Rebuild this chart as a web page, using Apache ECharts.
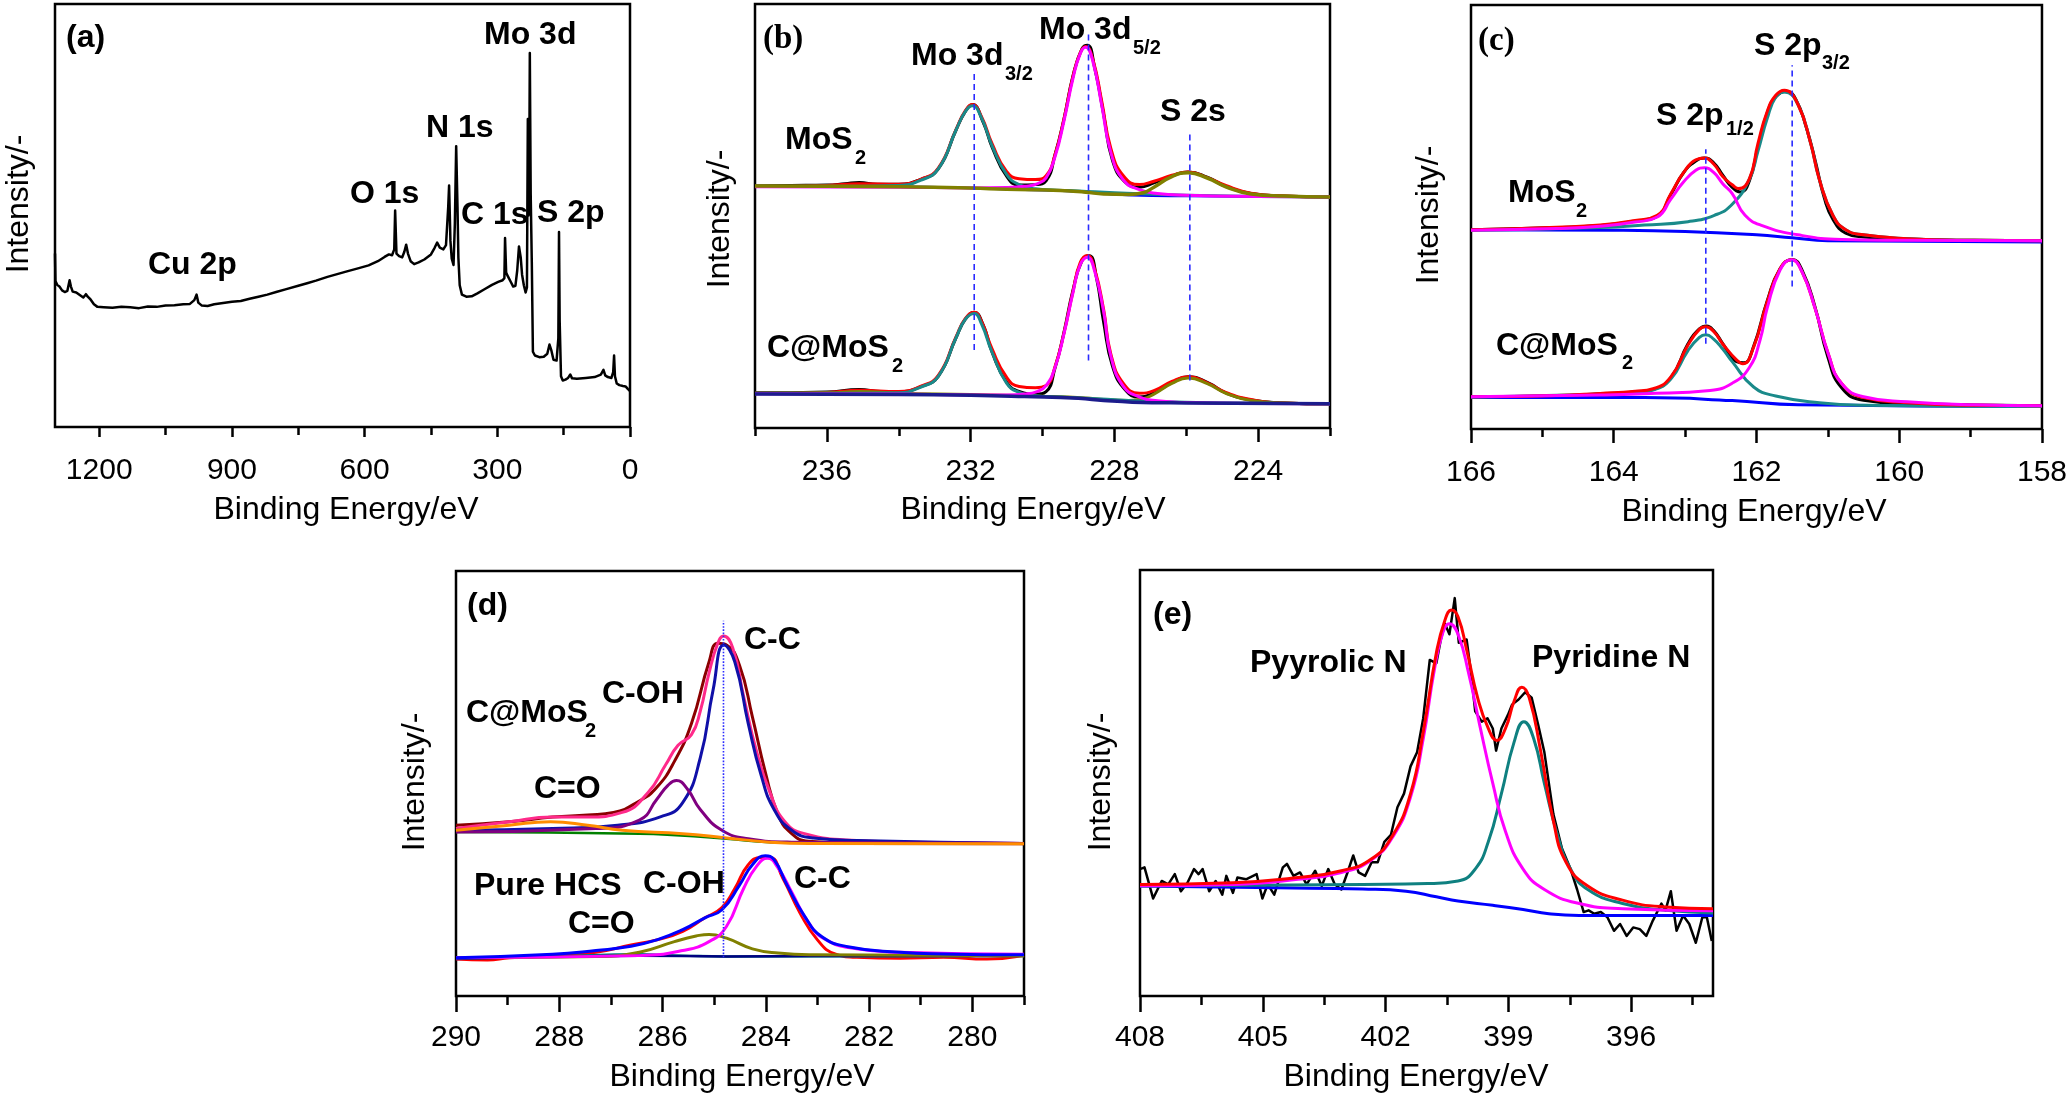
<!DOCTYPE html>
<html><head><meta charset="utf-8">
<script src="https://cdn.jsdelivr.net/npm/echarts@6/dist/echarts.min.js"></script>
<style>html,body{margin:0;padding:0;background:#fff}#c{width:2070px;height:1096px}</style>
</head><body><div id="c"></div>
<script>
// ---------- tick labels ----------
const aTicks = [0, 300, 600, 900, 1200];           const aMinor = [150, 450, 750, 1050];
const bTicks = [224, 228, 232, 236];               const bMinor = [222, 226, 230, 234, 238];
const cTicks = [158, 160, 162, 164, 166];          const cMinor = [159, 161, 163, 165];
const dTicks = [280, 282, 284, 286, 288, 290];     const dMinor = [279, 281, 283, 285, 287, 289];
const eTicks = [396, 399, 402, 405, 408];          const eMinor = [394.5, 397.5, 400.5, 403.5, 406.5];

// ---------- (a) survey ----------
const aSurvey = [[1300,41],[1299,34.5],[1295,33.6],[1290,33.2],[1284,32.3],[1278,31.9],[1272,32.2],[1267,34.7],[1264,33.2],[1260,32.0],[1252,31.8],[1244,31.2],[1236,30.6],[1230,31.4],[1226,30.8],[1220,30.2],[1212,29.0],[1204,28.4],[1190,28.3],[1170,28.2],[1150,28.4],[1130,28.3],[1110,28.1],[1090,28.5],[1070,28.4],[1050,28.7],[1030,28.8],[1010,29.0],[995,29.1],[985,30.0],[980,31.3],[976,29.4],[968,28.7],[955,28.6],[940,29.0],[920,29.3],[900,29.6],[880,29.8],[860,30.3],[840,30.8],[820,31.3],[800,31.9],[777,32.6],[750,33.4],[730,34.0],[710,34.6],[684,35.5],[660,36.2],[640,36.8],[615,37.5],[591,38.2],[570,39.2],[555,40.2],[545,40.8],[538,40.6],[533,42],[531,51.2],[528,41],[522,40.4],[515,40.1],[510,41.5],[506,43.1],[502,41],[496,39.2],[488,38.5],[478,38.9],[465,39.6],[450,40.8],[442,42.3],[436,43.6],[430,42.4],[422,42.0],[416,43],[411,52],[409,57.1],[406,44],[403,39.8],[399,38.3],[396,48],[393,66.4],[390,52],[388,40],[385,33.5],[380,31.3],[370,30.8],[358,30.9],[345,31.6],[330,32.5],[312,33.6],[298,34.3],[288,34.7],[284,35.2],[282.5,44.7],[280,36.5],[276,35.6],[270,34.4],[264,33.2],[259,33.4],[255,37],[251,42.7],[247,40],[244,36],[240,33.5],[236,31.8],[233,33],[231,72.8],[229.5,50],[228,55],[226.5,88.4],[224.5,55],[222,38.9],[219.5,17.8],[215,16.9],[205,16.5],[195,16.6],[187,17.3],[182,19.5],[178,18.2],[173,15.9],[166,15.7],[162,21],[160.5,46.1],[159,25],[156,12],[152,11],[146,11.2],[140,11.6],[135,12.4],[131,11.5],[120,11.4],[100,11.6],[80,11.8],[66,12.4],[60,13.5],[56,12.2],[50,11.8],[42,11.6],[38,13],[36,16.9],[34,12],[30,10.3],[24,9.9],[16,9.7],[10,9.6],[5,9.0],[2,9.4],[0,8.5]];

// ---------- (b) Mo 3d ----------
const bBlackTop = [[238,57.1],[237,57.2],[236,57.3],[235.5,57.6],[235.1,57.9],[234.6,57.5],[234,57.5],[233.4,58.6],[232.9,61.1],[232.4,70.4],[232.15,74.6],[231.95,76.3],[231.65,72.1],[231.4,66.2],[231.0,59.4],[230.65,57.3],[230.2,57.4],[229.9,58.3],[229.65,64.5],[229.4,73],[229.15,83.1],[228.9,89.5],[228.75,90.3],[228.55,85],[228.3,74],[228.05,63],[227.7,58],[227.3,56.8],[226.9,57.8],[226.4,59.4],[225.95,60.4],[225.4,59.1],[224.9,57],[224.2,55.3],[223.3,54.7],[222,54.5]];
const bRedTop = [[238,57.0],[236,57.2],[235.1,57.6],[234,57.5],[233.4,58.6],[232.9,61.3],[232.4,70.5],[232.15,74.8],[231.95,76.3],[231.7,73.5],[231.4,67],[231.0,60.5],[230.65,58.8],[230.2,58.6],[229.9,59.5],[229.65,64.5],[229.4,73],[229.15,83],[228.95,88.5],[228.8,90.0],[228.6,87],[228.35,77],[228.1,66],[227.75,59.5],[227.3,57.4],[226.9,58.2],[226.4,59.6],[225.95,60.4],[225.4,59.0],[224.9,57.2],[224.2,55.4],[223.3,54.7],[222,54.5]];
const bTealTop = [[238,57.0],[236,57.0],[234,57.2],[233.4,58.4],[232.9,61.1],[232.4,70.4],[232.15,74.6],[231.95,76.0],[231.7,73.2],[231.4,66.5],[231.0,59.8],[230.65,57.4],[230.2,56.4],[229.6,56.1],[229,55.9],[228,55.5],[226,54.9],[222,54.5]];
const bMagTop = [[238,56.9],[234,56.8],[232,56.6],[231,56.7],[230.5,57.0],[230.15,57.6],[229.9,59],[229.65,64],[229.4,72.5],[229.15,82.5],[228.95,88.3],[228.8,89.8],[228.6,86.5],[228.35,76],[228.1,65],[227.75,58.5],[227.3,56.2],[226.8,55.3],[226,54.9],[224,54.6],[222,54.5]];
const bOliveTop = [[238,57.1],[236,57.0],[234,56.9],[232,56.6],[231,56.3],[229.5,56.0],[228.8,55.6],[228.3,55.2],[227.6,55.1],[227.2,55.5],[226.9,56.8],[226.4,59.3],[225.95,60.2],[225.4,58.9],[224.9,56.9],[224.2,55.2],[223.3,54.7],[222,54.5]];
const bBlueTop = [[238,57.0],[234,56.9],[232,56.6],[230.5,56.2],[229,55.8],[228.3,55.3],[227.5,54.9],[226,54.7],[222,54.5]];
const bBlackBot = [[238,8.3],[236,8.5],[235.1,9.1],[234.5,8.6],[234,8.6],[233.4,9.7],[232.9,12.2],[232.4,21.4],[232.15,25.6],[231.9,27.3],[231.65,24.3],[231.4,17.8],[231.0,10.8],[230.65,8.6],[230.2,8.0],[229.9,8.6],[229.65,14.2],[229.4,22.7],[229.15,32.6],[228.9,39.5],[228.7,40.6],[228.5,35.5],[228.3,25],[228.05,14.5],[227.7,9],[227.3,7.3],[226.9,8.3],[226.4,10.7],[225.95,12.1],[225.4,10.7],[224.9,8.3],[224.2,6.6],[223.3,5.9],[222,5.7]];
const bRedBot = [[238,8.2],[236,8.4],[235.1,8.9],[234,8.6],[233.4,9.8],[232.9,12.4],[232.4,21.6],[232.15,25.8],[231.9,27.3],[231.7,25.2],[231.4,18.6],[231.0,12],[230.65,9.8],[230.2,9.5],[229.9,10],[229.65,14.5],[229.4,22.5],[229.15,32.3],[228.95,39],[228.75,40.7],[228.55,37.5],[228.3,28],[228.1,17.5],[227.75,10.5],[227.3,8.2],[226.9,8.8],[226.4,11],[225.95,12.1],[225.4,10.6],[224.9,8.4],[224.2,6.7],[223.3,5.9],[222,5.7]];
const bTealBot = [[238,8.2],[236,8.2],[234,8.3],[233.4,9.6],[232.9,12.2],[232.4,21.4],[232.15,25.6],[231.9,27.0],[231.7,24.6],[231.4,17.8],[231.0,10.6],[230.65,8.4],[230.2,7.6],[229.5,7.3],[228.5,6.9],[227,6.3],[225,5.9],[222,5.7]];
const bMagBot = [[238,8.1],[234,8.0],[232,7.8],[231,7.8],[230.5,8.0],[230.15,8.6],[229.9,10],[229.65,14.3],[229.4,22.3],[229.15,32],[228.95,38.5],[228.75,40.3],[228.55,37],[228.3,27.5],[228.1,17],[227.75,9.8],[227.3,7.3],[226.8,6.4],[226,6.0],[224,5.8],[222,5.7]];
const bOliveBot = [[238,8.2],[236,8.3],[235.1,8.6],[234,8.2],[232,7.9],[230,7.5],[228.8,7.1],[228.3,6.7],[227.6,6.5],[227.2,6.9],[226.9,8.0],[226.4,10.5],[225.95,11.8],[225.4,10.4],[224.9,8.2],[224.2,6.5],[223.3,5.9],[222,5.7]];
const bNavyBot = [[238,8.0],[234,7.9],[232,7.7],[230.5,7.4],[229,7.0],[228.3,6.5],[227.5,6.1],[226,5.9],[222,5.7]];
const bDash1 = [[231.9,18.4],[231.9,83.5]];
const bDash2 = [[228.72,15.9],[228.72,92.8]];
const bDash3 = [[225.9,11.2],[225.9,70.0]];

// ---------- (c) S 2p ----------
const cBlackTop = [[166,47.0],[164.8,47.5],[164.19,48.0],[163.7,49.0],[163.39,50.2],[163.2,55.3],[163.02,60.5],[162.85,63.2],[162.73,63.9],[162.6,62.8],[162.47,59.8],[162.34,57.0],[162.22,55.9],[162.1,58.5],[161.98,66.5],[161.85,74.5],[161.73,78.3],[161.58,79.6],[161.45,77.8],[161.3,71],[161.18,63.5],[161.05,54.5],[160.93,49.5],[160.75,46.2],[160.5,45.3],[159.89,44.8],[158.96,44.5],[158,44.4]];
const cRedTop = [[166,47.0],[164.8,47.6],[164.19,48.1],[163.7,49.2],[163.39,50.4],[163.2,55.5],[163.02,60.5],[162.85,63.5],[162.73,63.9],[162.6,62.5],[162.47,59.5],[162.34,57.6],[162.25,56.7],[162.1,59],[161.98,67.3],[161.85,74.9],[161.73,78.7],[161.61,79.9],[161.42,76.6],[161.24,67.3],[161.12,58.9],[160.93,50.4],[160.75,47.0],[160.5,45.8],[159.89,44.9],[158.96,44.5],[158,44.4]];
const cMagTop = [[166,46.9],[164.8,47.3],[164.19,47.8],[163.7,48.8],[163.39,50.0],[163.2,54.2],[163.02,58.3],[162.85,61.0],[162.73,61.6],[162.6,60.5],[162.47,57.8],[162.34,55.5],[162.16,50.4],[161.91,47.9],[161.42,45.8],[160.81,44.7],[160,44.5],[158,44.4]];
const cTealTop = [[166,46.8],[164.19,47.5],[163.57,48.1],[162.96,48.9],[162.59,50.4],[162.34,53.0],[162.1,58.9],[161.98,65.5],[161.85,73.2],[161.73,78.3],[161.61,79.5],[161.42,76.6],[161.24,67.3],[161.12,58.9],[160.93,50.4],[160.75,47.0],[160.5,45.8],[159.89,44.9],[158.96,44.5],[158,44.4]];
const cBlueTop = [[166,47.0],[164,46.9],[163,46.6],[162,45.8],[161.5,45.1],[161,44.4],[158,44.1]];
const cBlackBot = [[166,7.6],[164.8,7.8],[164.19,8.3],[163.7,8.7],[163.45,9.3],[163.2,12.1],[162.96,20.1],[162.8,23.6],[162.7,24.3],[162.6,23.2],[162.47,20.1],[162.28,15.9],[162.18,15.6],[162.04,19.5],[161.85,30.2],[161.67,37.8],[161.5,40.0],[161.36,37.4],[161.18,28.8],[161.0,17.0],[160.81,9.8],[160.5,6.8],[159.89,6.0],[158,5.5]];
const cRedBot = [[166,7.6],[164.8,7.9],[164.19,8.4],[163.7,8.9],[163.45,9.5],[163.2,12.3],[162.96,19.8],[162.8,23.5],[162.71,24.1],[162.6,23.0],[162.47,20.0],[162.28,16.3],[162.19,15.4],[162.04,19.3],[161.85,30.0],[161.67,37.8],[161.51,39.9],[161.36,37.0],[161.18,28.5],[160.99,17.5],[160.81,10.8],[160.5,7.4],[159.89,6.2],[158.96,5.6],[158,5.5]];
const cTealBot = [[166,7.5],[164.19,8.2],[163.7,8.6],[163.45,9.2],[163.2,11.8],[162.96,18.5],[162.8,21.6],[162.71,22.2],[162.6,21.2],[162.47,18.8],[162.34,15.9],[162.04,9.9],[161.73,7.8],[161.12,6.2],[160.5,5.6],[158,5.3]];
const cMagBot = [[166,7.6],[164.19,8.0],[163.57,8.3],[162.65,9.1],[162.34,10.8],[162.1,14.5],[161.95,21],[161.85,28.5],[161.67,37.5],[161.51,39.9],[161.36,37.0],[161.18,28.5],[160.99,17.5],[160.81,10.8],[160.5,7.6],[159.89,6.4],[158.96,5.7],[158,5.5]];
const cBlueBot = [[166,7.4],[163.57,7.4],[162.34,6.7],[161.42,5.7],[158,5.3]];
const cDash1 = [[162.71,20.1],[162.71,66.0]];
const cDash2 = [[161.5,33.6],[161.5,85.8]];

// ---------- (d) C 1s ----------
const dMaroon = [[290,40.2],[288.97,41.0],[288.13,42.1],[287.45,42.6],[286.95,43.2],[286.45,45.9],[286.11,49.1],[285.77,55.2],[285.44,64.1],[285.1,78.6],[284.93,83.0],[284.76,82.6],[284.51,77.8],[284.26,65.7],[284.01,52.7],[283.76,42.6],[283.5,38.2],[283.17,36.4],[282.24,35.9],[279,35.8]];
const dPink = [[290,39.4],[288.97,41.0],[288.13,42.1],[287.45,42.1],[286.78,43.2],[286.28,47.9],[285.94,54.4],[285.7,59],[285.44,61.5],[285.27,67],[285.1,76],[284.93,83],[284.82,84.7],[284.64,81.9],[284.43,70.5],[284.18,57.6],[283.92,47.9],[283.63,41.0],[283.25,38.2],[282.24,36.6],[280.56,36.1],[279,35.9]];
const dBlueCC = [[290,39.0],[288.13,39.4],[286.87,40.2],[286.03,42.2],[285.61,45.5],[285.27,56.0],[285.02,72.1],[284.81,82.6],[284.6,78.6],[284.34,64.1],[284.09,51.9],[283.84,43.9],[283.5,39.0],[283.08,37.2],[282.24,36.6],[279,35.9]];
const dPurple = [[290,38.6],[287.29,39.4],[286.45,41.4],[286.11,46.3],[285.9,49.5],[285.73,50.7],[285.52,48.7],[285.27,43.9],[284.85,39.0],[284.34,37.0],[283.5,36.2],[279,35.9]];
const dOrange = [[290,39.0],[288.97,40.2],[288.17,41.0],[287.45,40.2],[286.78,39.0],[285.61,38.2],[284.76,37.2],[283.92,36.2],[283.08,35.9],[279,35.8]];
const dGreen = [[290,38.6],[286.45,38.2],[284.76,37.0],[283.92,36.2],[279,35.8]];
const dRedHCS = [[290,8.7],[289.39,8.5],[288.97,9.0],[288.13,9.5],[287.29,10.3],[286.61,12.0],[286.11,13.2],[285.61,15.2],[285.18,18.4],[284.85,20.8],[284.6,25.3],[284.34,30.9],[284.09,32.6],[283.92,32.6],[283.67,27.7],[283.34,19.6],[283.0,13.2],[282.66,9.9],[282.24,9.1],[281.4,8.9],[280.56,9.1],[279.72,8.7],[279,9.5]];
const dBlueEnv = [[290,9.0],[288.13,9.8],[287.29,10.7],[286.61,11.7],[286.11,13.2],[285.61,15.6],[285.18,18.4],[284.85,20.3],[284.51,26.1],[284.26,30.9],[284.01,33.0],[283.84,32.1],[283.59,26.1],[283.25,18.8],[282.92,14.0],[282.41,11.6],[281.4,10.3],[280.56,9.9],[279,9.7]];
const dMagCC = [[290,9.0],[286.45,9.5],[285.61,10.7],[285.1,12.8],[284.76,16.4],[284.43,25.3],[284.18,30.5],[283.97,32.4],[283.76,30.1],[283.5,24.5],[283.17,17.2],[282.83,13.2],[282.24,11.1],[281.4,10.3],[279,9.8]];
const dOliveOH = [[290,9.0],[287.29,9.3],[286.45,10.3],[285.77,12.8],[285.35,14.1],[285.1,14.5],[284.76,13.6],[284.26,11.1],[283.76,10.1],[283.08,9.7],[279,9.5]];
const dTealCO = [[290,8.9],[288.13,9.3],[286.45,9.8],[285.61,9.5],[284.76,9.3],[279,9.4]];
const dNavy = [[290,8.7],[286.45,9.5],[284.76,9.3],[283.08,9.4],[279,9.5]];
const dDot = [[284.82,9.1],[284.82,88.3]];

// ---------- (e) N 1s ----------
const eBlack = [[408,29.8],[407.89,30.2],[407.68,22.9],[407.47,27.0],[407.31,26.2],[407.15,28.6],[407.0,24.6],[406.84,26.6],[406.68,29.8],[406.57,28.6],[406.47,29.8],[406.31,24.6],[406.15,27.0],[405.99,23.8],[405.89,28.2],[405.73,24.2],[405.62,27.8],[405.41,27.4],[405.15,28.6],[405.01,22.9],[404.88,26.2],[404.72,23.8],[404.51,30.2],[404.41,31.0],[404.25,28.2],[404.09,29.0],[403.93,26.2],[403.72,29.4],[403.56,25.8],[403.4,29.8],[403.24,26.2],[403.08,25.0],[402.93,29.0],[402.79,33.0],[402.66,29.0],[402.5,28.2],[402.34,31.4],[402.19,31.4],[402.03,36.2],[401.87,37.8],[401.71,44.3],[401.55,47.5],[401.39,53.9],[401.23,57.2],[401.08,65.2],[400.92,78.9],[400.76,78.1],[400.65,83.7],[400.55,87.4],[400.44,84.9],[400.31,93.4],[400.21,82.9],[400.02,83.7],[399.91,75.7],[399.81,66.8],[399.65,64.4],[399.51,65.2],[399.38,62.8],[399.3,57.6],[399.17,62.8],[399.01,66.0],[398.91,68.4],[398.75,69.6],[398.59,71.3],[398.43,70.0],[398.27,63.6],[398.12,57.2],[397.9,42.7],[397.69,34.6],[397.48,29.8],[397.32,25.0],[397.16,19.7],[397.04,20.1],[396.9,19.3],[396.74,19.7],[396.58,18.5],[396.42,15.3],[396.27,16.9],[396.11,14.1],[395.95,16.1],[395.79,15.7],[395.63,14.1],[395.47,17.7],[395.26,21.7],[395.16,20.1],[395.03,24.6],[394.89,15.3],[394.73,18.9],[394.58,16.9],[394.42,12.5],[394.26,18.5],[394.15,18.5],[394.03,12.9]];
const eRed = [[408,26.2],[405.73,26.6],[404.14,27.8],[403.08,29.4],[402.34,32.2],[401.82,37.8],[401.39,47.5],[401.08,62.0],[400.76,80.5],[400.55,88.2],[400.39,90.6],[400.23,89.0],[400.02,81.3],[399.75,70.0],[399.49,62.8],[399.28,60.0],[399.07,62.8],[398.86,69.2],[398.67,72.5],[398.49,70.0],[398.22,58.0],[397.9,41.1],[397.59,31.4],[397.06,25.8],[396.21,22.5],[395.16,20.9],[394,20.5]];
const eMag = [[408,25.9],[405.73,26.2],[404.14,27.4],[403.08,29.0],[402.34,32.0],[401.82,37.4],[401.39,46.7],[401.08,60.4],[400.81,76.5],[400.6,85.3],[400.44,87.4],[400.23,84.9],[399.97,75.7],[399.7,63.6],[399.38,49.9],[399.07,38.6],[398.64,29.8],[398.12,25.0],[397.27,21.7],[396.21,20.5],[394,20.0]];
const eTeal = [[408,25.8],[402.56,26.2],[400.97,26.4],[400.23,27.0],[399.81,29.8],[399.49,36.2],[399.17,47.5],[398.86,59.6],[398.62,64.4],[398.38,60.4],[398.12,49.9],[397.8,37.8],[397.48,29.8],[397.06,25.0],[396.21,21.7],[395.16,20.1],[394,19.5]];
const eBlue = [[408,25.8],[404.67,25.4],[402.56,25.1],[401.5,24.6],[400.76,23.3],[400.23,22.3],[399.38,21.3],[398.64,20.3],[398.01,19.3],[397.27,18.9],[394,18.9]];

// ---------- build ----------
const SANS = '"Liberation Sans", Arial, sans-serif';
const SERIF = '"Liberation Serif", "Times New Roman", serif';
const panels = [
  {grid:{left:55, top:4, width:575, height:423}, min:0, max:1300, ticks:aTicks, minor:aMinor, tl:10, ml:8, margin:29},
  {grid:{left:755, top:4, width:575, height:424}, min:222, max:238, ticks:bTicks, minor:bMinor, tl:14, ml:8, margin:29},
  {grid:{left:1471, top:5, width:575, height:424}, min:158, max:166, ticks:cTicks, minor:cMinor, tl:14, ml:8, margin:29},
  {grid:{left:456, top:571, width:568, height:425}, min:279, max:290, ticks:dTicks, minor:dMinor, tl:16, ml:9, margin:27},
  {grid:{left:1140, top:570, width:573, height:426}, min:394, max:408, ticks:eTicks, minor:eMinor, tl:16, ml:9, margin:27}
];
const grid = [], xAxis = [], yAxis = [];
panels.forEach((p, i) => {
  grid.push(Object.assign({show:true, borderColor:'#000', borderWidth:2.5, backgroundColor:'transparent'}, p.grid));
  xAxis.push({type:'value', gridIndex:i, min:p.min, max:p.max, inverse:true, position:'bottom',
    axisLine:{show:false, onZero:false}, splitLine:{show:false},
    axisTick:{show:true, inside:false, length:p.tl, lineStyle:{color:'#000', width:2.5}, customValues:p.ticks},
    axisLabel:{show:true, customValues:p.ticks, color:'#000', fontSize:30, fontFamily:SANS, margin:p.margin,
      formatter: v => String(v)}});
  xAxis.push({type:'value', gridIndex:i, min:p.min, max:p.max, inverse:true, position:'bottom',
    axisLine:{show:false, onZero:false}, splitLine:{show:false}, axisLabel:{show:false},
    axisTick:{show:true, inside:false, length:p.ml, lineStyle:{color:'#000', width:2.5}, customValues:p.minor}});
  yAxis.push({type:'value', gridIndex:i, min:0, max:100, show:false});
});

function L(g, data, color, width, smooth, extra) {
  return Object.assign({type:'line', xAxisIndex:2*g, yAxisIndex:g, data:data, symbol:'none', showSymbol:false,
    smooth: smooth ? 0.5 : false,
    lineStyle:{color:color, width:width, join:'round'}, itemStyle:{color:color}, silent:true, animation:false}, extra || {});
}
function D(g, data, type) {
  return L(g, data, '#2a2aff', 1.6, false, {lineStyle:{color:'#2a2aff', width:1.6, type:type}});
}
const TEAL = '#1a8a8a', OLIVE = '#808000', MAG = '#ff00ff', RED = '#ff0000', BLUE = '#0000ff';
const series = [
  L(0, aSurvey, '#000', 2.5, false),
  // b
  L(1, bBlackTop, '#000', 3, true), L(1, bRedTop, RED, 3, true), L(1, bBlueTop, BLUE, 2.5, true),
  L(1, bTealTop, TEAL, 3, true), L(1, bMagTop, MAG, 3, true), L(1, bOliveTop, OLIVE, 3.5, true),
  L(1, bBlackBot, '#000', 3, true), L(1, bRedBot, RED, 3, true), L(1, bOliveBot, OLIVE, 3, true),
  L(1, bTealBot, TEAL, 3, true), L(1, bMagBot, MAG, 3, true), L(1, bNavyBot, '#1c1c8c', 3.5, true),
  D(1, bDash1, [6,4]), D(1, bDash2, [6,4]), D(1, bDash3, [6,4]),
  // c
  L(2, cBlackTop, '#000', 3, true), L(2, cBlueTop, BLUE, 3, true), L(2, cTealTop, TEAL, 3, true),
  L(2, cRedTop, RED, 3, true), L(2, cMagTop, MAG, 3, true),
  L(2, cBlackBot, '#000', 3, true), L(2, cBlueBot, BLUE, 3, true), L(2, cTealBot, TEAL, 3, true),
  L(2, cRedBot, RED, 3, true), L(2, cMagBot, MAG, 3, true),
  D(2, cDash1, [6,4]), D(2, cDash2, [6,4]),
  // d
  L(3, dGreen, '#008000', 2.5, true), L(3, dMaroon, '#8b0000', 3, true), L(3, dPink, '#ff2a8a', 3, true),
  L(3, dBlueCC, '#1010a8', 3, true), L(3, dPurple, '#800080', 3, true), L(3, dOrange, '#ff8c00', 3, true),
  L(3, dRedHCS, RED, 3, true), L(3, dTealCO, '#008080', 2.5, true), L(3, dNavy, '#000080', 2.5, true),
  L(3, dOliveOH, OLIVE, 3, true), L(3, dMagCC, MAG, 3, true), L(3, dBlueEnv, BLUE, 3, true),
  D(3, dDot, 'dotted'),
  // e
  L(4, eBlack, '#000', 2.5, false), L(4, eBlue, BLUE, 3, true), L(4, eTeal, '#0f8080', 3, true),
  L(4, eMag, MAG, 3, true), L(4, eRed, RED, 3, true)
];

function T(text, x, y, size, opt) {
  opt = opt || {};
  return {type:'text', x:x, y:y, rotation: opt.rot || 0, silent:true, z:100,
    style:{text:text, fill:'#000', fontSize:size, fontWeight: opt.normal ? 'normal' : 'bold',
      fontFamily: opt.serif ? SERIF : SANS, textAlign: opt.align || 'left', textVerticalAlign:'middle'}};
}
const N = {normal:true, align:'center'};
const R = {normal:true, align:'center', rot:Math.PI/2};
const graphic = [
  // axis titles
  T('Binding Energy/eV', 346, 510, 32, N), T('Binding Energy/eV', 1033, 510, 32, N), T('Binding Energy/eV', 1754, 512, 32, N),
  T('Binding Energy/eV', 742, 1077, 32, N), T('Binding Energy/eV', 1416, 1077, 32, N),
  T('Intensity/-', 19, 204, 32, R), T('Intensity/-', 720, 219, 32, R), T('Intensity/-', 1429, 215, 32, R),
  T('Intensity/-', 415, 782, 32, R), T('Intensity/-', 1101, 782, 32, R),
  // (a)
  T('(a)', 66, 38, 32), T('Mo 3d', 484, 35, 32), T('N 1s', 426, 128, 32), T('O 1s', 350, 194, 32),
  T('C 1s', 461, 215, 32), T('S 2p', 537, 213, 32), T('Cu 2p', 148, 265, 32),
  // (b)
  T('(b)', 763, 39, 33, {serif:true}),
  T('Mo 3d', 911, 56, 32), T('3/2', 1005, 74, 20),
  T('Mo 3d', 1039, 30, 32), T('5/2', 1133, 48, 20),
  T('S 2s', 1160, 112, 32),
  T('MoS', 785, 140, 32), T('2', 855, 158, 20),
  T('C@MoS', 767, 348, 32), T('2', 892, 366, 20),
  // (c)
  T('(c)', 1478, 41, 33, {serif:true}),
  T('S 2p', 1754, 46, 32), T('3/2', 1822, 63, 20),
  T('S 2p', 1656, 116, 32), T('1/2', 1726, 129, 20),
  T('MoS', 1508, 193, 32), T('2', 1576, 211, 20),
  T('C@MoS', 1496, 346, 32), T('2', 1622, 363, 20),
  // (d)
  T('(d)', 467, 606, 32), T('C-C', 744, 640, 32), T('C-OH', 602, 694, 32),
  T('C@MoS', 466, 713, 32), T('2', 585, 731, 20), T('C=O', 534, 789, 32),
  T('Pure HCS', 474, 886, 32), T('C-OH', 643, 884, 32), T('C-C', 794, 879, 32), T('C=O', 568, 924, 32),
  // (e)
  T('(e)', 1153, 615, 32), T('Pyyrolic N', 1250, 663, 32), T('Pyridine N', 1532, 658, 32)
];

const chart = echarts.init(document.getElementById('c'), null, {renderer:'canvas'});
chart.setOption({backgroundColor:'#fff', animation:false, grid, xAxis, yAxis, series, graphic});
</script></body></html>
